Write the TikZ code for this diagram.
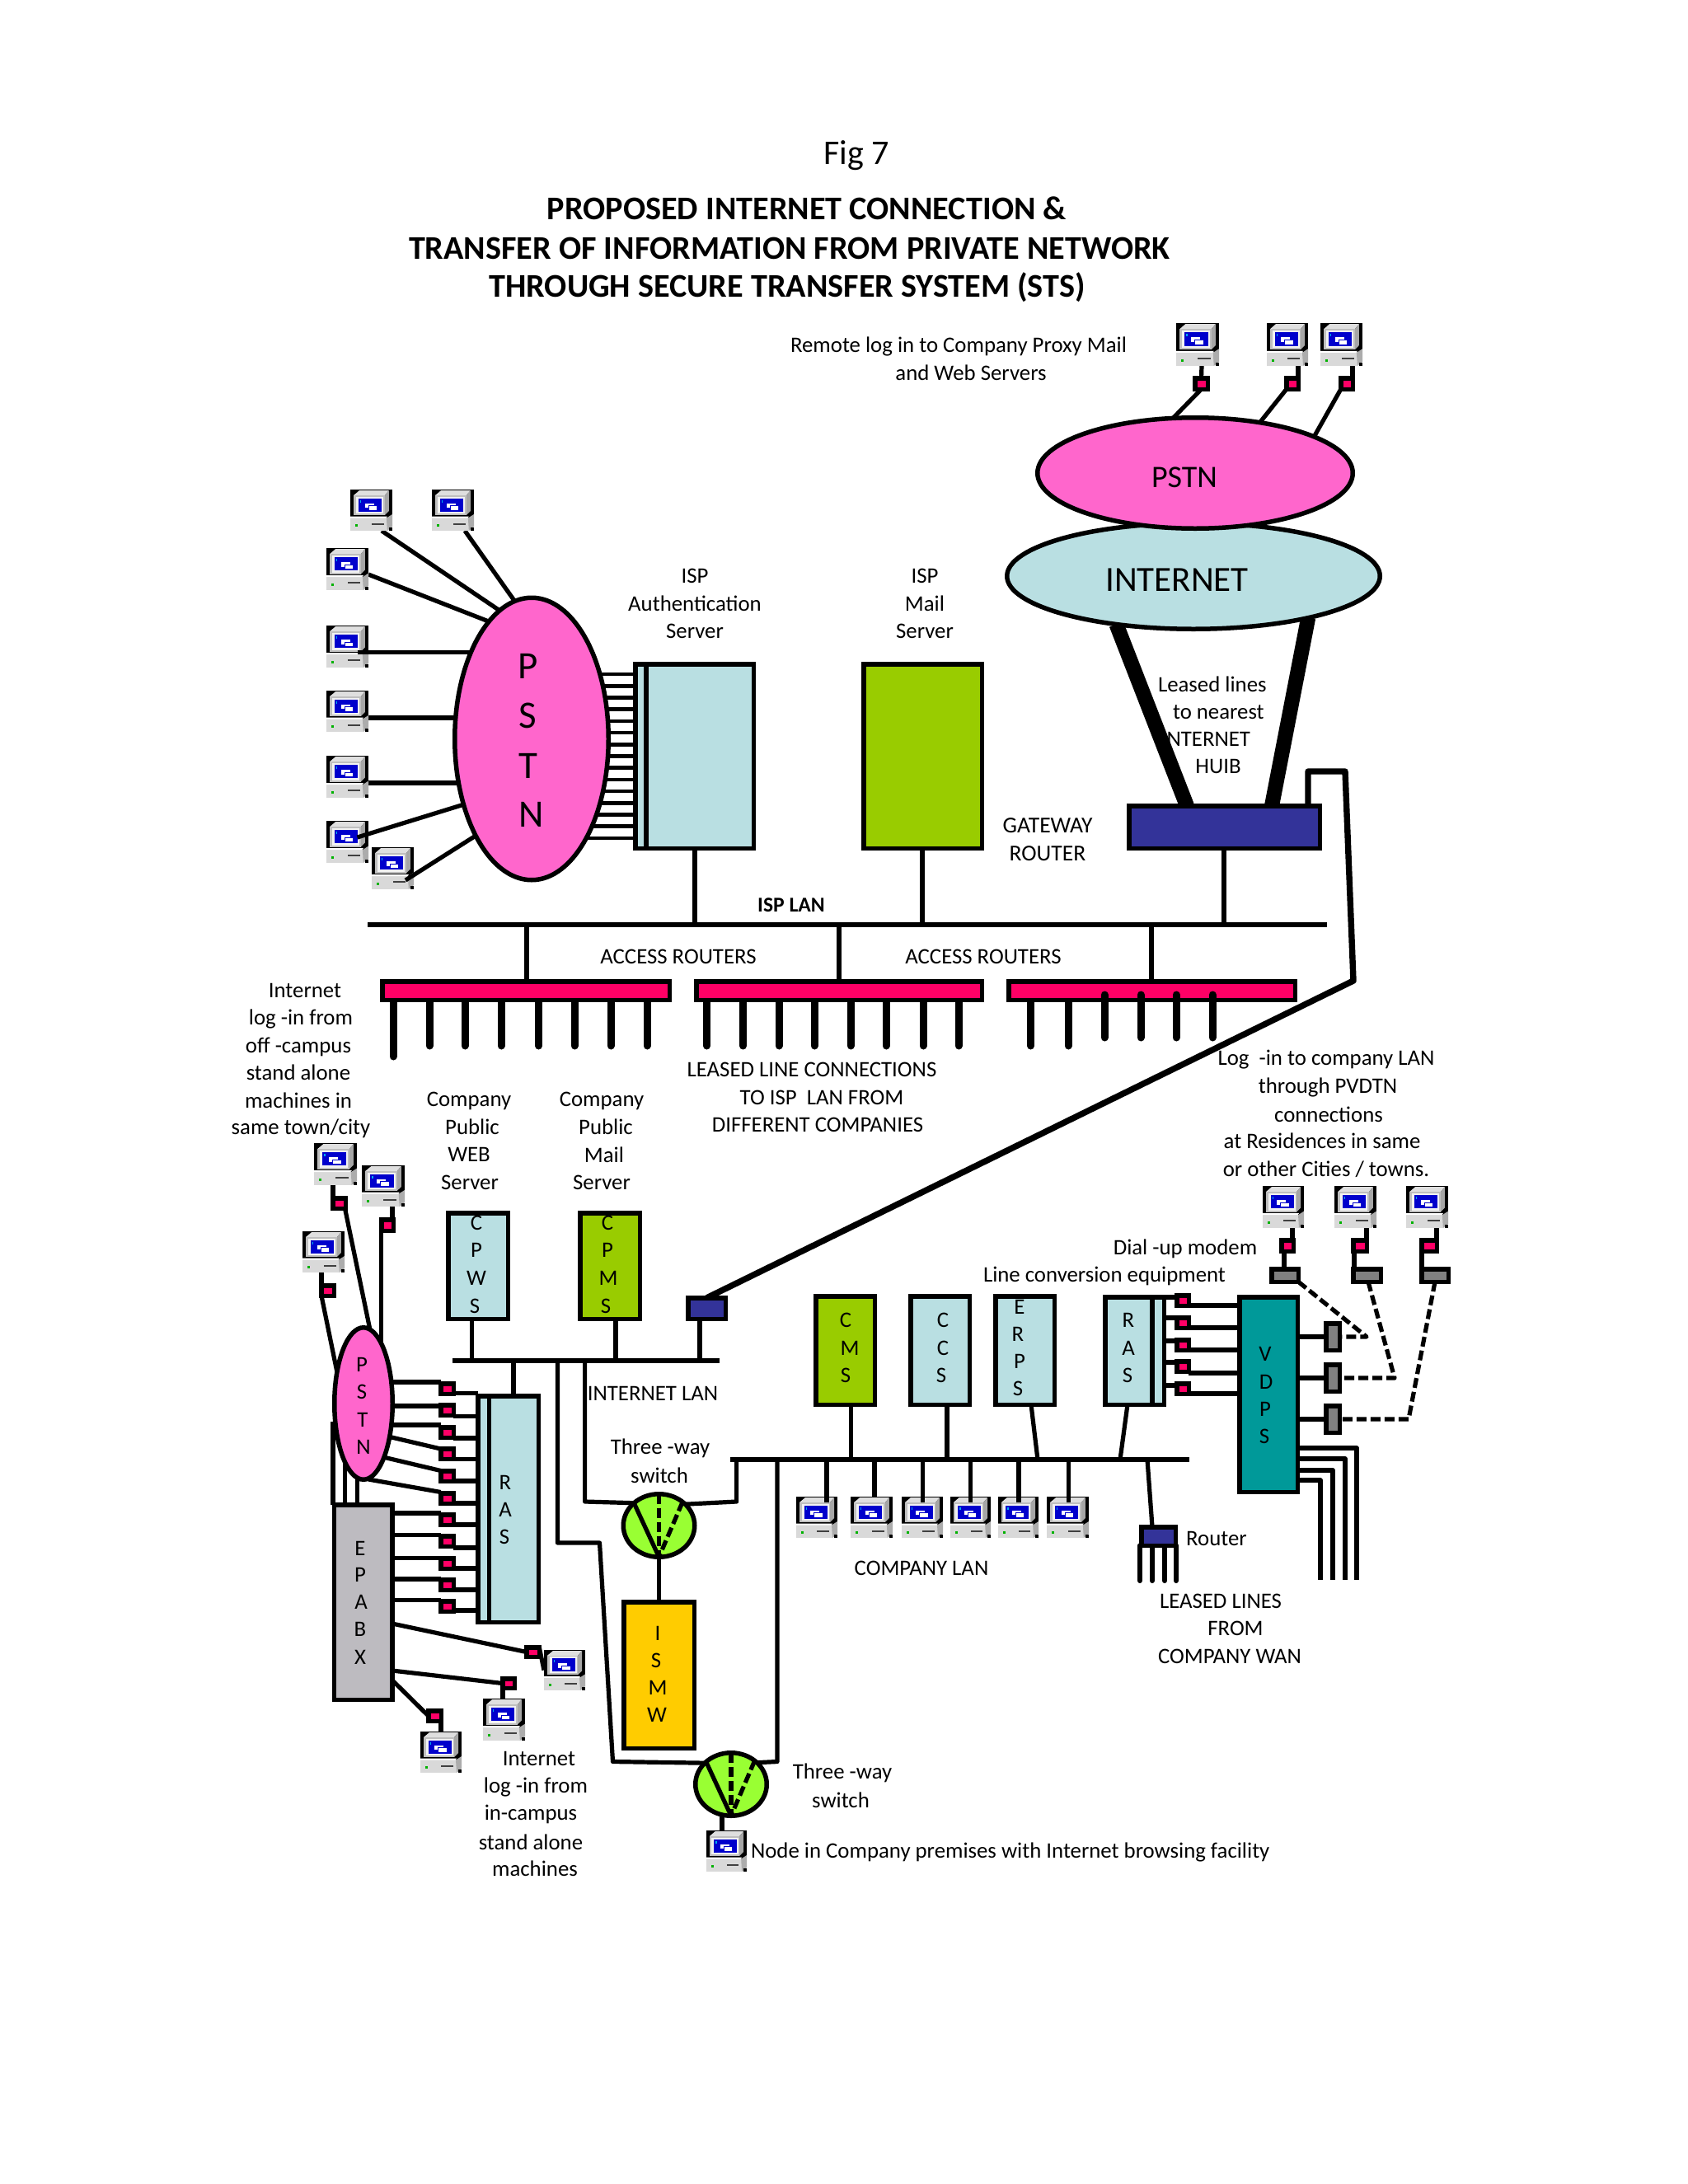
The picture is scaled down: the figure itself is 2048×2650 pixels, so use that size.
\documentclass[tikz,border=0pt]{standalone}
\usepackage{fontspec}
\setmainfont{Carlito}
\usetikzlibrary{shapes.geometric,calc}
\pgfdeclarelayer{bg}
\pgfdeclarelayer{fg}
\pgfsetlayers{bg,main,fg}
\definecolor{pinkc}{HTML}{FF66CC}
\definecolor{lblue}{HTML}{B9DFE2}
\definecolor{olive}{HTML}{99CC00}
\definecolor{navyc}{HTML}{333399}
\definecolor{tealc}{HTML}{009999}
\definecolor{redc}{HTML}{FF0066}
\definecolor{grayc}{HTML}{808080}
\definecolor{epabx}{HTML}{BDBBC0}
\definecolor{swgreen}{HTML}{99FF33}
\definecolor{amber}{HTML}{FFCC00}
\definecolor{scrblue}{HTML}{0000CC}
\newcounter{lblc}
\tikzset{
  lbl/.style={inner sep=0pt,outer sep=0pt,align=center,font=\fontsize{13.4}{16}\selectfont},
  boxn/.style={draw=black,line width=2.75pt,inner sep=0pt,outer sep=0pt,rectangle},
  elln/.style={draw=black,line width=2.75pt,inner sep=0pt,outer sep=0pt,ellipse},
  wire/.style={draw=black,line width=2.6pt,line join=round},
  stub/.style={draw=black,line width=4.5pt,line cap=round},
  heavy/.style={draw=black,line width=9pt},
  uplink/.style={draw=black,line width=3.7pt,line join=round},
  dashwire/.style={draw=black,line width=2.6pt,dash pattern=on 6pt off 2.5pt,line join=round}
}
\newcommand{\lbl}[4][]{\stepcounter{lblc}\node[lbl,#1] (t\arabic{lblc}) at (#2,#3) {#4};}
\newcommand{\bx}[6]{\node[boxn,fill=#6,minimum width={(#4-#2-3.5)*0.5pt},minimum height={(#5-#3-3.5)*0.5pt}] (#1) at ({(#2+#4)/2},{(#3+#5)/2}) {};}
\newcommand{\elnode}[6]{\node[elln,fill=#6,minimum width={(2*#4-3.5)*0.5pt},minimum height={(2*#5-3.5)*0.5pt}] (#1) at (#2,#3) {};}
\newcommand{\comp}[5]{%
 \node[inner sep=0pt,outer sep=0pt,minimum width={(#4-#2)*0.5pt},minimum height={(#5-#3)*0.5pt}] (#1) at ({(#2+#4)/2},{(#3+#5)/2}) {};
 \begin{scope}[shift={(#2,#3)},xscale={(#4-#2)/100},yscale={(#5-#3)/100}]
  \fill[black] (0,0) rectangle (100,70);
  \fill[gray!25] (8,14) -- (22,2) -- (92,2) -- (82,14) -- cycle;
  \fill[gray!70] (82,14) -- (92,2) -- (92,52) -- (82,62) -- cycle;
  \fill[gray!50] (8,14) rectangle (82,62);
  \fill[gray!10] (13,17) rectangle (79,58);
  \fill[scrblue] (19,21) rectangle (75,53);
  \fill[cyan] (23,25) rectangle (26,31);
  \fill[white,draw=scrblue,line width=0.25pt] (33,32) rectangle (57,45);
  \fill[white,draw=scrblue,line width=0.25pt] (43,39) rectangle (64,50);
  \fill[gray!30] (0,68) rectangle (88,100);
  \fill[white] (0,65) -- (88,65) -- (85,69) -- (0,69) -- cycle;
  \fill[gray!65] (86,69) -- (100,60) -- (100,90) -- (88,100) -- cycle;
  \fill[black] (92,92) -- (100,92) -- (100,100) -- (92,100) -- cycle;
  \fill[green!70!black] (12,84) rectangle (18,90);
  \fill[black!75] (50,81) rectangle (80,85);
 \end{scope}}
\begin{document}
\begin{tikzpicture}[x=0.5pt,y=-0.5pt]
\useasboundingbox (0,0) rectangle (2048,2650);
\begin{pgfonlayer}{bg}
\fill[white] (0,0) rectangle (2048,2650);
\end{pgfonlayer}

% ---------- titles
\lbl[font=\fontsize{21}{25}\selectfont]{1039}{189}{Fig 7}
\lbl[font=\bfseries\fontsize{20.1}{24}\selectfont]{979}{253}{PROPOSED INTERNET CONNECTION \&}
\lbl[font=\bfseries\fontsize{20.1}{24}\selectfont]{958}{301}{TRANSFER OF INFORMATION FROM PRIVATE NETWORK}
\lbl[font=\bfseries\fontsize{20.1}{24}\selectfont]{955}{349}{THROUGH SECURE TRANSFER SYSTEM (STS)}
\lbl{1163}{420}{Remote log in to Company Proxy Mail}
\lbl{1178}{452}{and Web Servers}
\lbl{843}{699}{ISP}\lbl{843}{732}{Authentication}\lbl{843}{766}{Server}
\lbl{1122}{699}{ISP}\lbl{1122}{732}{Mail}\lbl{1122}{766}{Server}
\lbl[font=\fontsize{13.8}{16}\selectfont]{1271}{1002}{GATEWAY}\lbl[font=\fontsize{13.8}{16}\selectfont]{1271}{1036}{ROUTER}
\lbl[font=\bfseries\fontsize{12.8}{15}\selectfont]{960}{1098}{ISP LAN}
\lbl{823}{1161}{ACCESS ROUTERS}\lbl{1193}{1161}{ACCESS ROUTERS}
\lbl{370}{1202}{Internet}\lbl{365}{1236}{log -in from}\lbl{362}{1270}{off -campus}\lbl{362}{1301}{stand alone}\lbl{362}{1335}{machines in}\lbl{365}{1369}{same town/city}
\lbl{569}{1336}{Company}\lbl{573}{1367}{Public}\lbl{569}{1401}{WEB}\lbl{570}{1435}{Server}
\lbl{730}{1336}{Company}\lbl{735}{1367}{Public}\lbl{733}{1401}{Mail}\lbl{730}{1435}{Server}
\lbl{985}{1298}{LEASED LINE CONNECTIONS}\lbl{997}{1332}{TO ISP\ \ LAN FROM}\lbl{992}{1365}{DIFFERENT COMPANIES}
\lbl{1609}{1286}{Log\ \ -in to company LAN}\lbl{1611}{1319}{through PVDTN}\lbl{1612}{1352}{connections}\lbl{1604}{1384}{at Residences in same}\lbl{1609}{1419}{or other Cities / towns.}
\lbl{1438}{1515}{Dial -up modem}\lbl{1340}{1548}{Line conversion equipment}
\lbl{792}{1691}{INTERNET LAN}
\lbl{801}{1757}{Three -way}\lbl{800}{1790}{switch}
\lbl{1022}{2151}{Three -way}\lbl{1020}{2184}{switch}
\lbl{1118}{1903}{COMPANY LAN}
\lbl{1481}{1943}{LEASED LINES}\lbl{1499}{1976}{FROM}\lbl{1492}{2010}{COMPANY WAN}
\lbl{1476}{1867}{Router}
\lbl{654}{2134}{Internet}\lbl{650}{2168}{log -in from}\lbl{644}{2201}{in-campus}\lbl{644}{2235}{stand alone}\lbl{649}{2267}{machines}
\lbl[anchor=west]{911}{2247}{Node in Company premises with Internet browsing facility}

% ---------- large shapes
\elnode{inet}{1448}{699}{228}{66}{lblue}
\elnode{pstnu}{1450}{574}{193}{69}{pinkc}
\elnode{pstnb}{645}{896.5}{95}{173}{pinkc}
\elnode{pstns}{441}{1703}{37}{94}{pinkc}
\bx{auth}{769}{804}{916}{1031}{lblue}
\bx{mail}{1046}{804}{1193}{1031}{olive}
\bx{gate}{1368}{976}{1603}{1031}{navyc}
\bx{acc1}{462}{1189}{814}{1215}{redc}
\bx{acc2}{843}{1189}{1193}{1215}{redc}
\bx{acc3}{1222}{1189}{1573}{1215}{redc}
\bx{cpws}{542}{1470}{618}{1602}{lblue}
\bx{cpms}{702}{1470}{778}{1602}{olive}
\bx{irt}{833}{1573}{882}{1602}{navyc}
\bx{cms}{988}{1571}{1063}{1706}{olive}
\bx{ccs}{1103}{1571}{1178}{1706}{lblue}
\bx{erps}{1206}{1571}{1281}{1706}{lblue}
\bx{rasr}{1339}{1572}{1414}{1706}{lblue}
\bx{vdps}{1502}{1572}{1576}{1812}{tealc}
\bx{ras}{578}{1692}{655}{1970}{lblue}
\bx{epb}{403.5}{1824}{477.5}{2064}{epabx}
\bx{ismw}{755}{1942}{844}{2123}{amber}
\bx{rtr}{1383}{1851}{1428}{1877}{navyc}
\elnode{swa}{799.5}{1851}{45}{40}{swgreen}
\elnode{swb}{887}{2165}{45}{40}{swgreen}
% small modems
\bx{mu1}{1448}{457}{1467}{474}{redc}
\bx{mu2}{1559}{457}{1577}{474}{redc}
\bx{mu3}{1625}{457}{1643}{474}{redc}
\bx{ma}{402}{1452}{421}{1468}{redc}
\bx{mb}{461}{1478}{479}{1495}{redc}
\bx{mc}{388}{1558}{407}{1574}{redc}
\bx{rm1}{533}{1677}{552}{1693}{redc}
\bx{rm2}{533}{1703}{552}{1719}{redc}
\bx{rm3}{533}{1730}{552}{1746}{redc}
\bx{rm4}{533}{1756}{552}{1772}{redc}
\bx{rm5}{533}{1783}{552}{1799}{redc}
\bx{rm6}{533}{1810}{552}{1826}{redc}
\bx{rm7}{533}{1836}{552}{1852}{redc}
\bx{rm8}{533}{1862}{552}{1878}{redc}
\bx{rm9}{533}{1889}{552}{1905}{redc}
\bx{rm10}{533}{1915}{552}{1931}{redc}
\bx{rm11}{533}{1941}{552}{1957}{redc}
\bx{ex1}{637}{1997}{656}{2012}{redc}
\bx{ex2}{608}{2035}{626}{2050}{redc}
\bx{ex3}{518}{2074}{537}{2090}{redc}
\bx{vm1}{1426}{1570}{1444}{1586}{redc}
\bx{vm2}{1426}{1597}{1444}{1613}{redc}
\bx{vm3}{1426}{1624}{1444}{1640}{redc}
\bx{vm4}{1426}{1650}{1444}{1666}{redc}
\bx{vm5}{1426}{1677}{1444}{1693}{redc}
\bx{dm1}{1553}{1503}{1571}{1520}{redc}
\bx{dm2}{1640}{1503}{1660}{1520}{redc}
\bx{dm3}{1723}{1503}{1745}{1520}{redc}
\bx{lc1}{1541}{1538}{1577}{1557}{grayc}
\bx{lc2}{1640}{1538}{1677}{1557}{grayc}
\bx{lc3}{1723}{1538}{1759}{1557}{grayc}
\bx{vg1}{1607}{1604}{1627}{1640}{grayc}
\bx{vg2}{1607}{1654}{1627}{1690}{grayc}
\bx{vg3}{1607}{1704}{1627}{1740}{grayc}

% ---------- computers
\comp{cu1}{1427}{392}{1479}{444}
\comp{cu2}{1537}{392}{1587}{444}
\comp{cu3}{1602}{392}{1653}{444}
\comp{c1}{425}{594}{476}{644}
\comp{c2}{524}{594}{575}{644}
\comp{c3}{396}{665}{447}{716}
\comp{c4}{396}{759}{447}{810}
\comp{c5}{396}{838}{447}{888}
\comp{c6}{396}{917}{447}{968}
\comp{c7}{396}{996}{447}{1047}
\comp{c8}{451}{1028}{502}{1079}
\comp{ca}{381}{1387}{433}{1438}
\comp{cb}{439}{1414}{491}{1464}
\comp{cc}{367}{1494}{418}{1544}
\comp{ex4}{660}{2002}{710}{2051}
\comp{ex5}{586}{2061}{637}{2112}
\comp{ex6}{510}{2101}{560}{2151}
\comp{l1}{966}{1816}{1016}{1866}
\comp{l2}{1032}{1816}{1083}{1866}
\comp{l3}{1094}{1816}{1144}{1866}
\comp{l4}{1153}{1816}{1202}{1866}
\comp{l5}{1211}{1816}{1260}{1866}
\comp{l6}{1270}{1816}{1321}{1866}
\comp{d1}{1532}{1439}{1582}{1490}
\comp{d2}{1619}{1439}{1670}{1490}
\comp{d3}{1706}{1439}{1757}{1490}
\comp{nd}{857}{2221}{906}{2271}

% ---------- named bus ends
\coordinate (ispW) at (446,1122);
\coordinate (ispE) at (1610,1122);
\coordinate (intW) at (549,1651);
\coordinate (intE) at (873,1651);
\coordinate (comW) at (886,1771);
\coordinate (comE) at (1443,1771);
\coordinate (ulA) at (1587,936);
\coordinate (ulB) at (1632,936);
\coordinate (ulC) at (1642,1190);
\coordinate (stubA) at (0,1269);
\coordinate (stubB) at (0,1282);
\coordinate (stubC) at (0,1259);
\coordinate (tailA) at (0,1917);
\coordinate (jA) at (676.4,1872);
\coordinate (jB) at (727.5,1872);
\coordinate (jC) at (743.5,2137.5);
\coordinate (jD) at (709.6,1822);
\coordinate (jE) at (893.6,1822);
\coordinate (jF) at (943,2137.5);
\coordinate (dA) at (1658,1622);
\coordinate (dB) at (1692,1672);
\coordinate (dC) at (1709,1722);

% ---------- connectors beneath the shapes
\begin{pgfonlayer}{bg}
\node[lbl,anchor=west] (t-leased1) at (1405,830) {Leased lines};
\node[lbl,anchor=west] (t-leased2) at (1423,864) {to nearest};
\node[lbl,anchor=east] (t-leased3) at (1517,897) {INTERNET};
\node[lbl] (t-leased4) at (1478,930) {HUIB};
\draw[heavy] (inet.212.4) -- (1440,0 |- gate.north);
\draw[heavy] (inet.340) -- (1543,0 |- gate.north);
\draw[uplink] (1587,0 |- gate.north) -- (ulA) -- (ulB) -- (ulC) -- (irt.north);
% top
\draw[wire] (mu1.south) -- (pstnu.112);
\draw[wire] (mu2.south west) -- (pstnu.38);
\draw[wire] (mu3.south west) -- (pstnu.17.5);
\draw[wire] (1458,0 |- cu1.south) -- (mu1.north);
\draw[wire] (1575,0 |- cu2.south) -- (1575,0 |- mu2.north);
\draw[wire] (1641,0 |- cu3.south) -- (1641,0 |- mu3.north);
% big PSTN
\draw[wire] (463,0 |- c1.south) -- (pstnb.104);
\draw[wire] (564,0 |- c2.south) -- (pstnb.97);
\draw[wire] (c3.east |- 0,697) -- (pstnb.110);
\draw[wire] (c5.east |- 0,871) -- (pstnb |- 0,871);
\draw[wire] (c6.east |- 0,950) -- (pstnb |- 0,950);
\foreach \i [evaluate=\i as \yy using 818+14.2*\i] in {0,...,14}
  \draw[line width=2.3pt,draw=black] (pstnb |- 0,\yy) -- (auth.west |- 0,\yy);
% ISP LAN
\draw[wire] (ispW) -- (ispE);
\draw[wire] (843,0 |- auth.south) -- (843,0 |- ispW);
\draw[wire] (1119,0 |- mail.south) -- (1119,0 |- ispW);
\draw[wire] (1485,0 |- gate.south) -- (1485,0 |- ispW);
\draw[wire] (639,0 |- acc1.north) -- (639,0 |- ispW);
\draw[wire] (1018,0 |- acc2.north) -- (1018,0 |- ispW);
\draw[wire] (1397,0 |- acc3.north) -- (1397,0 |- ispW);
\draw[stub] (477,0 |- acc1.south) -- (477,0 |- stubB);
\foreach \x in {521,564,608,653.5,697,741,785,857.5,901.5,945,988,1032,1075,1120,1163,1250.5,1296}
  \draw[stub] (\x,0 |- acc1.south) -- (\x,0 |- stubA);
% lower PSTN links
\draw[wire] (404,0 |- ca.south) -- (404,0 |- ma.north);
\draw[wire] (418.5,0 |- ma.south) -- (pstns.85);
\draw[wire] (476,0 |- cb.south) -- (476,0 |- mb.north);
\draw[wire] (462.5,0 |- mb.south) -- (462.5,1640);
\draw[wire] (390,0 |- cc.south) -- (390,0 |- mc.north);
\draw[wire] (390,0 |- mc.south) -- (pstns.130);
\draw[wire] (404,1725) -- (404,0 |- epb.north);
\draw[wire] (418.5,1760) -- (418.5,0 |- epb.north);
\draw[wire] (433.5,1780) -- (433.5,0 |- epb.north);
% PSTN to RAS modems
\draw[wire] (pstns |- 0,1677) -- (rm1.west |- 0,1677);
\draw[wire] (pstns |- 0,1706) -- (rm2.west |- 0,1706);
\draw[wire] (pstns |- 0,1729) -- (rm3.west |- 0,1729);
\draw[wire] (471,1743) -- (rm4.west |- 0,1758);
\draw[wire] (465,1768) -- (rm5.west |- 0,1784.5);
\draw[wire] (447,1795) -- (rm6.west |- 0,1810.5);
\draw[wire] (epb.east |- 0,1836) -- (rm7.west |- 0,1836);
\draw[wire] (epb.east |- 0,1862.5) -- (rm8.west |- 0,1862.5);
\draw[wire] (epb.east |- 0,1890.5) -- (rm9.west |- 0,1890.5);
\draw[wire] (epb.east |- 0,1916) -- (rm10.west |- 0,1916);
\draw[wire] (epb.east |- 0,1941.5) -- (rm11.west |- 0,1941.5);
\foreach \yy/\mm in {1690.5/rm1,1718.5/rm2,1745/rm3,1770.5/rm4,1797/rm5,1824/rm6,1850/rm7,1878/rm8,1903/rm9,1929/rm10,1954/rm11}
  \draw[wire] (\mm.east |- 0,\yy) -- (ras.west |- 0,\yy);
% EPABX outlets
\draw[wire] (epb.east |- 0,1970) -- (ex1.west);
\draw[wire] (epb.east |- 0,2027) -- (ex2.west);
\draw[wire] (epb.east |- 0,2038.5) -- (ex3.west);
\draw[wire] (ex1.north east) -- (ex4.west);
\draw[wire] (610,0 |- ex2.south) -- (610,0 |- ex5.north);
\draw[wire] (535,0 |- ex3.south) -- (535,0 |- ex6.north);
% Internet LAN
\draw[wire] (intW) -- (intE);
\draw[wire] (572.5,0 |- cpws.south) -- (572.5,0 |- intW);
\draw[wire] (747,0 |- cpms.south) -- (747,0 |- intW);
\draw[wire] (849,0 |- irt.south) -- (849,0 |- intW);
\draw[wire] (623,0 |- ras.north) -- (623,0 |- intW);
\draw[wire] (jA |- intW) -- (jA) -- (jB) -- (jC) -- (swb.141);
\draw[wire] (jD |- intW) -- (jD) -- (swa.138);
\draw[wire] (swa.39) -- (jE) -- (jE |- comW);
\draw[wire] (jF |- comW) -- (jF) -- (swb.40);
\draw[wire] (swa.south) -- (ismw.north);
\draw[wire] (876,0 |- swb.south) -- (876,0 |- nd.north);
% company LAN
\draw[wire] (comW) -- (comE);
\draw[wire] (1032.5,0 |- cms.south) -- (1032.5,0 |- comW);
\draw[wire] (1149,0 |- ccs.south) -- (1149,0 |- comW);
\draw[wire] (1251,0 |- erps.south) -- (1259,0 |- comW);
\draw[wire] (1368,0 |- rasr.south) -- (1359,0 |- comW);
\draw[wire] (1392,0 |- comW) -- (1398,0 |- rtr.north);
\foreach \x in {1383,1398,1413,1427}
  \draw[stub,line width=3pt] (\x,0 |- rtr.south) -- (\x,1918);
% RAS/VDPS
\foreach \a/\b/\mm in {1574/1584/vm1,1599/1611/vm2,1627/1638/vm3,1653/1666/vm4,1681/1691/vm5}{
  \draw[wire] (rasr.east |- 0,\a) -- (\mm.west |- 0,\a);
  \draw[wire] (\mm.east |- 0,\b) -- (vdps.west |- 0,\b);}
\foreach \yy/\mm in {1622/vg1,1672/vg2,1722/vg3}
  \draw[wire] (vdps.east |- 0,\yy) -- (\mm.west);
\draw[wire] (1646,0 |- tailA) -- (1646,1757) -- (vdps.east |- 0,1757);
\draw[wire] (1632,0 |- tailA) -- (1632,1770) -- (vdps.east |- 0,1770);
\draw[wire] (1617,0 |- tailA) -- (1617,1784) -- (vdps.east |- 0,1784);
\draw[wire] (1602,0 |- tailA) -- (1602,1796) -- (vdps.east |- 0,1796);
% dial-up side
\draw[wire] (1568,0 |- d1.south) -- (1568,0 |- dm1.north);
\draw[wire] (1558,0 |- dm1.south) -- (1558,0 |- lc1.north);
\draw[wire] (1658,0 |- d2.south) -- (1658,0 |- dm2.north);
\draw[wire] (1643,0 |- dm2.south) -- (1643,0 |- lc2.north);
\draw[wire] (1743,0 |- d3.south) -- (1743,0 |- dm3.north);
\draw[wire] (1725,0 |- dm3.south) -- (1725,0 |- lc3.north);
\draw[dashwire] (lc1.south east) -- (dA) -- (vg1.east);
\draw[dashwire] (1660,0 |- lc2.south) -- (dB) -- (vg2.east);
\draw[dashwire] (1741,0 |- lc3.south) -- (dC) -- (vg3.east);
\end{pgfonlayer}

% ---------- inner details of shapes
\draw[wire] (784,0 |- auth.north) -- (784,0 |- auth.south);
\draw[wire] (593.5,0 |- ras.north) -- (593.5,0 |- ras.south);
\draw[wire] (1398,0 |- rasr.north) -- (1398,0 |- rasr.south);
\draw[wire] (swa.138) -- (swa.south);
\draw[dashwire] (swa.north) -- (swa.south);
\draw[dashwire] (swa.45) -- (swa.south);
\draw[wire] (swb.138) -- (swb.south);
\draw[dashwire] (swb.north) -- (swb.south);
\draw[dashwire] (swb.45) -- (swb.south);

% ---------- shape texts
\lbl[font=\fontsize{19}{22}\selectfont]{1437}{579}{PSTN}
\lbl[font=\fontsize{21.5}{25}\selectfont]{1428}{704}{INTERNET}
\lbl[font=\fontsize{23.5}{28}\selectfont]{641}{808}{P}\lbl[font=\fontsize{23.5}{28}\selectfont]{640}{868}{S}\lbl[font=\fontsize{23.5}{28}\selectfont]{641}{929}{T}\lbl[font=\fontsize{23.5}{28}\selectfont]{645}{988}{N}
\lbl{439}{1656}{P}\lbl{439}{1689}{S}\lbl{440}{1723}{T}\lbl{441}{1756}{N}
\lbl{437}{1879}{E}\lbl{437}{1911}{P}\lbl{438}{1944}{A}\lbl{437}{1977}{B}\lbl{437}{2011}{X}
\lbl{613}{1799}{R}\lbl{613}{1832}{A}\lbl{612}{1865}{S}
\lbl{798}{1982}{I}\lbl{796}{2015}{S}\lbl{798}{2048}{M}\lbl{797}{2081}{W}
\lbl{578}{1484}{C}\lbl{578}{1517}{P}\lbl{578}{1551}{W}\lbl{576}{1585}{S}
\lbl{737}{1484}{C}\lbl{737}{1517}{P}\lbl{738}{1551}{M}\lbl{735}{1585}{S}
\lbl{1026}{1602}{C}\lbl{1031}{1636}{M}\lbl{1026}{1669}{S}
\lbl{1144}{1602}{C}\lbl{1144}{1636}{C}\lbl{1142}{1669}{S}
\lbl{1237}{1586}{E}\lbl{1235}{1619}{R}\lbl{1237}{1652}{P}\lbl{1235}{1685}{S}
\lbl{1369}{1602}{R}\lbl{1369}{1636}{A}\lbl{1368}{1669}{S}
\lbl{1535}{1643}{V}\lbl{1536}{1677}{D}\lbl{1535}{1710}{P}\lbl{1534}{1743}{S}

% ---------- connectors over the shapes
\begin{pgfonlayer}{fg}
\draw[wire] ([xshift=6pt]c4.center |- pstnb.125) -- (pstnb.125);
\draw[wire] ([shift={(12,-5.5)}]c7.center) -- (pstnb.224.5);
\draw[wire] ([shift={(15.5,14.5)}]c8.center) -- (pstnb.240.6);
\draw[wire] (1003,0 |- comW) -- (1003,1823);
\draw[wire] (1061,0 |- comW) -- (1061,0 |- l2.north);
\draw[wire] (1119.5,0 |- comW) -- (1119.5,1823);
\draw[wire] (1177.5,0 |- comW) -- (1177.5,1823);
\draw[wire] (1236,0 |- comW) -- (1236,1823);
\draw[wire] (1296.5,0 |- comW) -- (1296.5,1823);
\foreach \x in {1340,1384,1427,1471}
  \draw[stub] (\x,1207) -- (\x,0 |- stubC);
\end{pgfonlayer}
\end{tikzpicture}
\end{document}
